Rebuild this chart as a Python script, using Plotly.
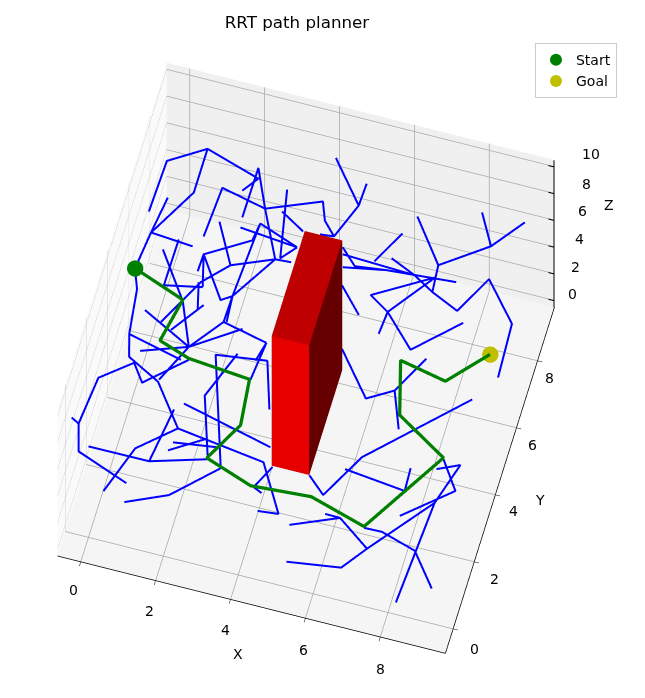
import plotly.graph_objects as go

X_RANGE = [-0.62, 9.74]
Y_RANGE = [-0.73, 9.6]
Z_RANGE = [-0.5, 10.5]
tick_x = [0, 2, 4, 6, 8]
tick_y = [0, 2, 4, 6, 8]
tick_z = [0, 2, 4, 6, 8, 10]

# Tree branches: each is a list of (x, y, z) nodes
branches = [
    [(-.45,7.32,5.2),(-.42,8.92,5),(.545,9.35,5.5),(1.93,9.25,4.5),(1.47,9.36,3)],
    [(.545,9.35,5.5),(.18,9.34,2),(-.41,7.385,3.5),(-.06,4.62,8),(-.42,6.09,2.5),(-.42,5.35,1),(-.348,5.089,0),(.56,4.603,0),(1.418,3.448,0),(3.799,3.107,0),(4.573,1.781,0),(4.033,1.719,0)],
    [(-.424,9.02,2),(-.41,7.385,3.5),(.363,8.585,0)],
    [(1.47,9.36,1),(1.9,9.36,5),(2.07,9.39,2),(2.507,8.8,0),(1.446,8.324,0),(.855,9.38,.2)],
    [(.557,8.936,0),(.956,9.30,3),(2.07,9.39,2)],
    [(2.07,9.39,2),(3.655,9.25,4),(3.695,9.29,2.5),(3.94,9.286,1.5),(4.593,9.312,4.2),(3.979,9.326,7.3)],
    [(4.593,9.312,4.2),(4.808,9.306,6)],
    [(3.94,9.286,1.5),(3.546,9.355,1.2)],
    [(2.507,8.8,0),(2.925,8.829,0)],
    [(2.676,9.33,4),(2.623,8.863,0),(2.955,9.282,0)],
    [(1.963,9.317,1),(2.955,9.282,0)],
    [(1.418,9.364,.2),(2.955,9.282,0)],
    [(2.536,9.355,2.2),(3.094,9.357,1.1)],
    [(.681,7.931,0),(.697,8.441,0),(1.794,9.164,0),(1.963,9.317,1),(1.737,7.486,0),(1.472,7.293,0),(.697,8.441,0),(.928,7.526,0)],
    [(1.446,8.324,0),(.84,7.65,0),(.168,6.274,0)],
    [(2.507,8.8,0),(1.737,7.486,0),(1.718,6.709,0),(2.939,6.428,0)],
    [(1.737,7.486,0),(1.792,6.73,0)],
    [(-.035,8.68,0),(-.047,7.311,0),(.928,7.526,0)],
    [(-.351,8.294,0),(.545,7.003,0),(1.051,5.779,0)],
    [(-.32,6.493,0),(1.051,5.779,0)],
    [(1.093,7.038,0),(.476,6.123,0)],
    [(.791,7.636,0),(.976,6.886,0)],
    [(-.42,5.35,1),(.955,5.367,0)],
    [(-.178,4.959,0),(.174,4.464,0),(1.152,5.422,0)],
    [(-.178,4.959,0),(-.425,2.448,5),(-.444,.638,6.1),(-.446,.645,4),(.566,1.577,0)],
    [(-.444,.638,6.1),(-.443,-.022,8.2)],
    [(-.124,5.33,0),(1.051,5.779,0),(2.24,6.647,0)],
    [(1.051,5.779,0),(.569,4.665,0)],
    [(1.051,5.779,0),(1.718,6.709,0)],
    [(3.534,4.607,0),(3.104,5.94,0),(1.777,5.746,0),(2.787,2.645,0)],
    [(2.312,5.926,0),(1.825,4.543,0),(2.397,2.803,0)],
    [(2.939,6.428,0),(2.834,5.301,0)],
    [(2.939,6.428,0),(2.809,5.857,0)],
    [(1.372,4.178,0),(3.855,3.569,0)],
    [(1.172,3.943,0),(.961,2.341,0),(-.448,1.591,2)],
    [(.961,2.341,0),(2.397,2.803,0)],
    [(1.418,3.448,0),(.516,2.601,0),(.062,1.198,0)],
    [(1.404,3.029,0),(2.55,3.202,0)],
    [(1.343,2.774,0),(2.234,3.38,0)],
    [(2.787,2.645,0),(1.717,1.544,0),(.665,1.04,0)],
    [(4.059,3.033,0),(3.747,2.351,0),(3.991,2.242,0)],
    [(4.16,9.34,.7),(4.531,9.161,0),(5.349,9.272,0),(7.186,9.35,.2)],
    [(4.243,9.05,0),(5.349,9.272,0)],
    [(4.15,9.37,.1),(6.077,9.328,0),(6.652,8.985,0),(7.415,8.635,0),(8.06,9.366,1),(8.87,8.658,0),(8.945,7.076,0)],
    [(5.463,9.341,.8),(6.077,9.328,0)],
    [(5.0,9.36,.2),(5.769,9.29,3)],
    [(6.152,9.343,4.4),(6.705,9.361,1.1),(8.112,9.363,3.5),(7.878,9.348,5.9)],
    [(8.112,9.363,3.5),(9.014,9.37,5.9)],
    [(6.705,9.361,1.1),(6.652,8.985,0)],
    [(6.656,9.35,.2),(5.15,8.474,0),(5.701,8.124,0),(6.592,9.384,0)],
    [(5.701,8.124,0),(6.562,7.238,0),(7.656,8.346,0)],
    [(5.701,8.124,0),(5.65,7.457,0)],
    [(4.359,8.548,0),(5.01,7.841,0)],
    [(4.857,6.788,0),(5.836,5.579,0),(6.487,5.999,0),(7.025,7.101,0)],
    [(6.487,5.999,0),(6.889,4.955,0)],
    [(8.477,6.291,0),(6.197,3.929,0),(5.532,2.615,0),(5.032,3.068,0)],
    [(5.871,3.482,0),(7.519,3.292,0),(7.488,3.965,0)],
    [(8.136,4.118,0),(8.695,4.394,0),(8.351,3.169,0),(8.17,.149,0)],
    [(8.23,4.441,0),(8.774,3.644,0),(7.591,2.569,0)],
    [(8.351,3.169,0),(7.035,1.434,0),(6.543,.731,0),(5.143,.516,0)],
    [(7.035,1.434,0),(6.129,2.099,0),(5.729,2.106,0)],
    [(6.129,2.099,0),(4.929,1.555,0)],
    [(6.798,1.99,0),(7.272,2.005,0),(8.232,1.711,0),(8.947,.783,0)],
]

path_x = [-.06,.545,.298,1.152,2.817,2.953,2.373,3.674,5.261,6.798,8.23,6.813,6.41,7.68,8.578]
path_y = [4.62,7.003,5.717,5.422,5.266,3.938,2.796,2.331,2.449,1.99,4.441,5.319,6.839,6.572,7.626]
path_z = [8,.1,.1,.1,.1,.1,.1,.1,.1,.1,.1,.1,.1,.1,.1]

start = (-.06, 4.62, 8)
goal = (8.578, 7.626, .1)

box_x = [4.03, 5.03]
box_y = [3.07, 6.2]
box_z = [0, 9.7]

tree_x, tree_y, tree_z = [], [], []
for b in branches:
    for p in b:
        tree_x.append(p[0]); tree_y.append(p[1]); tree_z.append(p[2])
    tree_x.append(None); tree_y.append(None); tree_z.append(None)

x0, x1 = box_x; y0, y1 = box_y; z0, z1 = box_z
vx = [x0, x1, x1, x0, x0, x1, x1, x0]
vy = [y0, y0, y1, y1, y0, y0, y1, y1]
vz = [z0, z0, z0, z0, z1, z1, z1, z1]
faces = [(0,1,5,"#e60000"),(0,5,4,"#e60000"),(4,5,6,"#bf0000"),(4,6,7,"#bf0000"),
         (1,2,6,"#660000"),(1,6,5,"#660000"),(3,2,6,"#660000"),(3,6,7,"#660000"),
         (0,3,7,"#660000"),(0,7,4,"#660000"),(0,1,2,"#660000"),(0,2,3,"#660000")]

fig = go.Figure()
fig.add_trace(go.Mesh3d(x=vx, y=vy, z=vz,
    i=[f[0] for f in faces], j=[f[1] for f in faces], k=[f[2] for f in faces],
    facecolor=[f[3] for f in faces], flatshading=True,
    lighting=dict(ambient=1, diffuse=0, specular=0, roughness=1, fresnel=0),
    showscale=False, showlegend=False, hoverinfo="skip"))
fig.add_trace(go.Scatter3d(x=tree_x, y=tree_y, z=tree_z, mode="lines",
    line=dict(color="#0000ff", width=4), showlegend=False, connectgaps=False))
fig.add_trace(go.Scatter3d(x=path_x, y=path_y, z=path_z, mode="lines",
    line=dict(color="#008000", width=6.5), showlegend=False))
fig.add_trace(go.Scatter3d(x=[start[0]], y=[start[1]], z=[start[2]], mode="markers",
    name="Start", marker=dict(color="#008000", size=9.5)))
fig.add_trace(go.Scatter3d(x=[goal[0]], y=[goal[1]], z=[goal[2]], mode="markers",
    name="Goal", marker=dict(color="#bfbf00", size=9.5)))

# Z axis drawn at the back right corner, as in the reference
zx = X_RANGE[1] - 0.01
zy = Y_RANGE[1] - 0.01
zl_x, zl_y, zl_z = [zx, zx, None], [zy, zy, None], [Z_RANGE[0], Z_RANGE[1], None]
for t in tick_z:
    zl_x += [zx - 0.15, zx, None]; zl_y += [zy, zy, None]; zl_z += [t, t, None]
fig.add_trace(go.Scatter3d(x=zl_x, y=zl_y, z=zl_z, mode="lines",
    line=dict(color="#000000", width=2), showlegend=False, hoverinfo="skip"))

font = dict(family="DejaVu Sans", size=14, color="#000000")
def axis(rng, ticks, bg, line=True):
    return dict(range=rng, tickvals=ticks, showticklabels=False, title=dict(text=""),
        showgrid=True, gridcolor="#a8a8a8", gridwidth=1.5, zeroline=False, showbackground=True,
        backgroundcolor=bg, showline=line, linecolor="#000000", linewidth=1.5,
        ticks="outside" if line else "", tickcolor="#000000", ticklen=5, showspikes=False,
        autorange=False)

labels = []
def label(text, x, y, z, dx, dy):
    labels.append(dict(text=text, x=x, y=y, z=z, xshift=dx, yshift=-dy, showarrow=False,
                       xanchor="center", yanchor="middle", font=font))

xlo, ylo, zlo = X_RANGE[0] + 0.001, Y_RANGE[0] + 0.001, Z_RANGE[0] + 0.001
for t, (dx, dy) in zip(tick_x, [(-7, 28), (-6, 30), (-5, 31), (-2, 32), (0, 32)]):
    label(str(t), t, ylo, zlo, dx, dy)
for t, (dx, dy) in zip(tick_y, [(22, 20), (21, 17), (19, 16), (17, 17), (13, 17)]):
    label(str(t), zx, t, zlo, dx, dy)
for t, (dx, dy) in zip(tick_z, [(19, -7), (22, -7), (26, -8), (29, -9), (33, -10), (37, -13)]):
    label(str(t), zx, zy, t, dx, dy)
label("X", 4, ylo, zlo, 8, 55)
label("Y", zx, 4, zlo, 45, 5)
label("Z", zx, zy, 6, 55, -15)

r = 2.0
scale = 1.185
fig.update_layout(
    width=637, height=690, margin=dict(l=0, r=0, t=0, b=0),
    paper_bgcolor="#ffffff", font=font,
    title=dict(text="RRT path planner", x=0.4537, xanchor="center", y=0.98, yanchor="middle",
               font=dict(family="DejaVu Sans", size=16.7, color="#000000")),
    legend=dict(x=0.956, y=0.949, xanchor="right", yanchor="top", bgcolor="rgba(255,255,255,0.8)",
                bordercolor="#cccccc", borderwidth=1, font=font, itemsizing="constant"),
    scene=dict(
        domain=dict(x=[0, 0.935], y=[0, 0.9855]),
        aspectmode="manual", aspectratio=dict(x=scale, y=scale, z=0.81*scale),
        xaxis=axis(X_RANGE, tick_x, "#fafafa"),
        yaxis=axis(Y_RANGE, tick_y, "#f0f0f0"),
        zaxis=axis(Z_RANGE, tick_z, "#f5f5f5", line=False),
        annotations=labels,
        camera=dict(eye=dict(x=.122*r, y=-.434*r, z=.8926*r), up=dict(x=0, y=0, z=1),
                    center=dict(x=0, y=0, z=0), projection=dict(type="orthographic")),
    ),
)
fig.write_html("out.html")
